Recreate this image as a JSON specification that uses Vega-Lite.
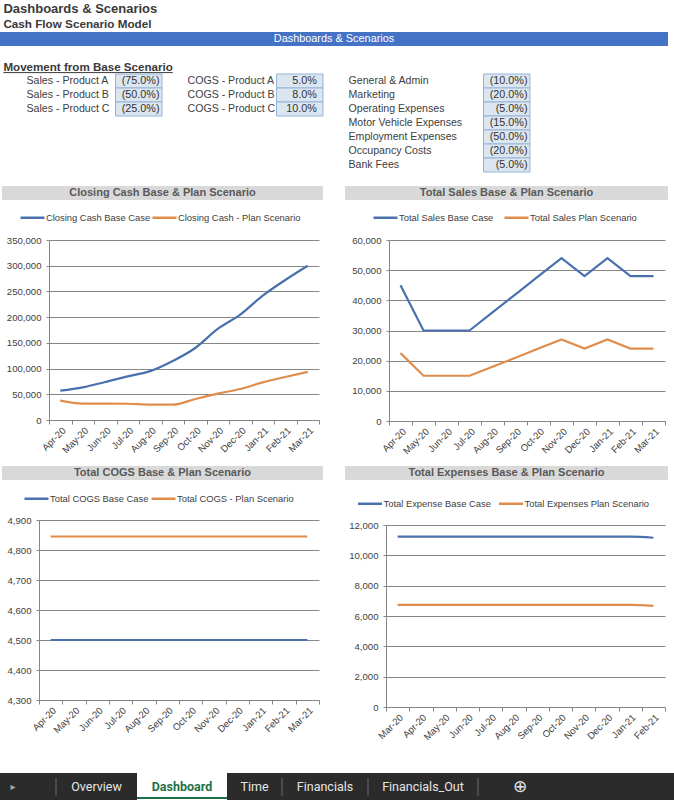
{
  "$schema": "https://vega.github.io/schema/vega-lite/v6.json",
  "padding": 0,
  "background": "white",
  "config": {
    "font": "Liberation Sans",
    "view": {"stroke": null},
    "concat": {"spacing": 0},
    "axis": {"domainColor": "#868686", "tickColor": "#868686", "gridColor": "#868686", "labelColor": "#404040", "labelFontSize": 9.6, "title": null}
  },
  "datasets": {
    "inputs": [
      {"g": "Sales", "r": "r1", "label": "Sales - Product A", "pct": -0.75},
      {"g": "Sales", "r": "r2", "label": "Sales - Product B", "pct": -0.5},
      {"g": "Sales", "r": "r3", "label": "Sales - Product C", "pct": -0.25},
      {"g": "COGS", "r": "r1", "label": "COGS - Product A", "pct": 0.05},
      {"g": "COGS", "r": "r2", "label": "COGS - Product B", "pct": 0.08},
      {"g": "COGS", "r": "r3", "label": "COGS - Product C", "pct": 0.1},
      {"g": "Expenses", "r": "r1", "label": "General & Admin", "pct": -0.1},
      {"g": "Expenses", "r": "r2", "label": "Marketing", "pct": -0.2},
      {"g": "Expenses", "r": "r3", "label": "Operating Expenses", "pct": -0.05},
      {"g": "Expenses", "r": "r4", "label": "Motor Vehicle Expenses", "pct": -0.15},
      {"g": "Expenses", "r": "r5", "label": "Employment Expenses", "pct": -0.5},
      {"g": "Expenses", "r": "r6", "label": "Occupancy Costs", "pct": -0.2},
      {"g": "Expenses", "r": "r7", "label": "Bank Fees", "pct": -0.05}
    ],
    "cash": [
      {"m": "Apr-20", "s": "Closing Cash Base Case", "v": 57000},
      {"m": "May-20", "s": "Closing Cash Base Case", "v": 63500},
      {"m": "Jun-20", "s": "Closing Cash Base Case", "v": 73900},
      {"m": "Jul-20", "s": "Closing Cash Base Case", "v": 84900},
      {"m": "Aug-20", "s": "Closing Cash Base Case", "v": 95000},
      {"m": "Sep-20", "s": "Closing Cash Base Case", "v": 114700},
      {"m": "Oct-20", "s": "Closing Cash Base Case", "v": 140000},
      {"m": "Nov-20", "s": "Closing Cash Base Case", "v": 177000},
      {"m": "Dec-20", "s": "Closing Cash Base Case", "v": 204800},
      {"m": "Jan-21", "s": "Closing Cash Base Case", "v": 241800},
      {"m": "Feb-21", "s": "Closing Cash Base Case", "v": 272200},
      {"m": "Mar-21", "s": "Closing Cash Base Case", "v": 300000},
      {"m": "Apr-20", "s": "Closing Cash - Plan Scenario", "v": 37600},
      {"m": "May-20", "s": "Closing Cash - Plan Scenario", "v": 31800},
      {"m": "Jun-20", "s": "Closing Cash - Plan Scenario", "v": 31800},
      {"m": "Jul-20", "s": "Closing Cash - Plan Scenario", "v": 31600},
      {"m": "Aug-20", "s": "Closing Cash - Plan Scenario", "v": 29800},
      {"m": "Sep-20", "s": "Closing Cash - Plan Scenario", "v": 29800},
      {"m": "Oct-20", "s": "Closing Cash - Plan Scenario", "v": 40800},
      {"m": "Nov-20", "s": "Closing Cash - Plan Scenario", "v": 51200},
      {"m": "Dec-20", "s": "Closing Cash - Plan Scenario", "v": 60300},
      {"m": "Jan-21", "s": "Closing Cash - Plan Scenario", "v": 73200},
      {"m": "Feb-21", "s": "Closing Cash - Plan Scenario", "v": 83600},
      {"m": "Mar-21", "s": "Closing Cash - Plan Scenario", "v": 93500}
    ],
    "sales": [
      {"m": "Apr-20", "s": "Total Sales Base Case", "v": 45000},
      {"m": "May-20", "s": "Total Sales Base Case", "v": 30000},
      {"m": "Jun-20", "s": "Total Sales Base Case", "v": 30000},
      {"m": "Jul-20", "s": "Total Sales Base Case", "v": 30000},
      {"m": "Aug-20", "s": "Total Sales Base Case", "v": 36000},
      {"m": "Sep-20", "s": "Total Sales Base Case", "v": 42000},
      {"m": "Oct-20", "s": "Total Sales Base Case", "v": 48000},
      {"m": "Nov-20", "s": "Total Sales Base Case", "v": 54000},
      {"m": "Dec-20", "s": "Total Sales Base Case", "v": 48000},
      {"m": "Jan-21", "s": "Total Sales Base Case", "v": 54000},
      {"m": "Feb-21", "s": "Total Sales Base Case", "v": 48000},
      {"m": "Mar-21", "s": "Total Sales Base Case", "v": 48000},
      {"m": "Apr-20", "s": "Total Sales Plan Scenario", "v": 22500},
      {"m": "May-20", "s": "Total Sales Plan Scenario", "v": 15000},
      {"m": "Jun-20", "s": "Total Sales Plan Scenario", "v": 15000},
      {"m": "Jul-20", "s": "Total Sales Plan Scenario", "v": 15000},
      {"m": "Aug-20", "s": "Total Sales Plan Scenario", "v": 18000},
      {"m": "Sep-20", "s": "Total Sales Plan Scenario", "v": 21000},
      {"m": "Oct-20", "s": "Total Sales Plan Scenario", "v": 24000},
      {"m": "Nov-20", "s": "Total Sales Plan Scenario", "v": 27000},
      {"m": "Dec-20", "s": "Total Sales Plan Scenario", "v": 24000},
      {"m": "Jan-21", "s": "Total Sales Plan Scenario", "v": 27000},
      {"m": "Feb-21", "s": "Total Sales Plan Scenario", "v": 24000},
      {"m": "Mar-21", "s": "Total Sales Plan Scenario", "v": 24000}
    ],
    "cogs": [
      {"m": "Apr-20", "s": "Total COGS Base Case", "v": 4500},
      {"m": "May-20", "s": "Total COGS Base Case", "v": 4500},
      {"m": "Jun-20", "s": "Total COGS Base Case", "v": 4500},
      {"m": "Jul-20", "s": "Total COGS Base Case", "v": 4500},
      {"m": "Aug-20", "s": "Total COGS Base Case", "v": 4500},
      {"m": "Sep-20", "s": "Total COGS Base Case", "v": 4500},
      {"m": "Oct-20", "s": "Total COGS Base Case", "v": 4500},
      {"m": "Nov-20", "s": "Total COGS Base Case", "v": 4500},
      {"m": "Dec-20", "s": "Total COGS Base Case", "v": 4500},
      {"m": "Jan-21", "s": "Total COGS Base Case", "v": 4500},
      {"m": "Feb-21", "s": "Total COGS Base Case", "v": 4500},
      {"m": "Mar-21", "s": "Total COGS Base Case", "v": 4500},
      {"m": "Apr-20", "s": "Total COGS - Plan Scenario", "v": 4845},
      {"m": "May-20", "s": "Total COGS - Plan Scenario", "v": 4845},
      {"m": "Jun-20", "s": "Total COGS - Plan Scenario", "v": 4845},
      {"m": "Jul-20", "s": "Total COGS - Plan Scenario", "v": 4845},
      {"m": "Aug-20", "s": "Total COGS - Plan Scenario", "v": 4845},
      {"m": "Sep-20", "s": "Total COGS - Plan Scenario", "v": 4845},
      {"m": "Oct-20", "s": "Total COGS - Plan Scenario", "v": 4845},
      {"m": "Nov-20", "s": "Total COGS - Plan Scenario", "v": 4845},
      {"m": "Dec-20", "s": "Total COGS - Plan Scenario", "v": 4845},
      {"m": "Jan-21", "s": "Total COGS - Plan Scenario", "v": 4845},
      {"m": "Feb-21", "s": "Total COGS - Plan Scenario", "v": 4845},
      {"m": "Mar-21", "s": "Total COGS - Plan Scenario", "v": 4845}
    ],
    "exp": [
      {"m": "Mar-20", "s": "Total Expense Base Case", "v": 11230},
      {"m": "Apr-20", "s": "Total Expense Base Case", "v": 11230},
      {"m": "May-20", "s": "Total Expense Base Case", "v": 11230},
      {"m": "Jun-20", "s": "Total Expense Base Case", "v": 11230},
      {"m": "Jul-20", "s": "Total Expense Base Case", "v": 11230},
      {"m": "Aug-20", "s": "Total Expense Base Case", "v": 11230},
      {"m": "Sep-20", "s": "Total Expense Base Case", "v": 11230},
      {"m": "Oct-20", "s": "Total Expense Base Case", "v": 11230},
      {"m": "Nov-20", "s": "Total Expense Base Case", "v": 11230},
      {"m": "Dec-20", "s": "Total Expense Base Case", "v": 11230},
      {"m": "Jan-21", "s": "Total Expense Base Case", "v": 11230},
      {"m": "Feb-21", "s": "Total Expense Base Case", "v": 11160},
      {"m": "Mar-20", "s": "Total Expenses Plan Scenario", "v": 6740},
      {"m": "Apr-20", "s": "Total Expenses Plan Scenario", "v": 6740},
      {"m": "May-20", "s": "Total Expenses Plan Scenario", "v": 6740},
      {"m": "Jun-20", "s": "Total Expenses Plan Scenario", "v": 6740},
      {"m": "Jul-20", "s": "Total Expenses Plan Scenario", "v": 6740},
      {"m": "Aug-20", "s": "Total Expenses Plan Scenario", "v": 6740},
      {"m": "Sep-20", "s": "Total Expenses Plan Scenario", "v": 6740},
      {"m": "Oct-20", "s": "Total Expenses Plan Scenario", "v": 6740},
      {"m": "Nov-20", "s": "Total Expenses Plan Scenario", "v": 6740},
      {"m": "Dec-20", "s": "Total Expenses Plan Scenario", "v": 6740},
      {"m": "Jan-21", "s": "Total Expenses Plan Scenario", "v": 6740},
      {"m": "Feb-21", "s": "Total Expenses Plan Scenario", "v": 6670}
    ]
  },
  "bounds": "flush",
  "spacing": 0,
  "resolve": {"scale": {"x": "independent", "y": "independent", "color": "independent"}, "legend": {"color": "independent"}},
  "vconcat": [
    {
      "width": 668, "height": 186,
      "layer": [
        {
          "data": {"values": [{"r": "b"}]},
          "mark": {"type": "rect", "fill": "#4472C4"},
          "encoding": {
            "y": {"field": "r", "type": "nominal", "axis": null, "scale": {"type": "band", "domain": ["t1","t2","b","e","h","r1","r2","r3","r4","r5","r6","r7"], "range": [4, 172], "paddingInner": 0, "paddingOuter": 0}}
          }
        },
        {
          "data": {"values": [{"r": "b", "t": "Dashboards & Scenarios"}]},
          "mark": {"type": "text", "color": "white", "fontSize": 10.9, "baseline": "middle"},
          "encoding": {
            "y": {"field": "r", "type": "nominal", "axis": null, "scale": {"type": "band", "domain": ["t1","t2","b","e","h","r1","r2","r3","r4","r5","r6","r7"], "range": [4, 172], "paddingInner": 0, "paddingOuter": 0}},
            "text": {"field": "t"}
          }
        },
        {
          "data": {"values": [{"r": "t1", "t": "Dashboards & Scenarios"}]},
          "mark": {"type": "text", "color": "#3A3A3A", "fontSize": 13, "fontWeight": "bold", "align": "left", "baseline": "alphabetic"},
          "encoding": {
            "x": {"datum": "Sales", "type": "nominal", "bandPosition": -0.1435, "axis": null, "scale": {"type": "band", "domain": ["Sales","COGS","Expenses"], "range": [26.5, 509.5], "paddingInner": 0, "paddingOuter": 0}},
            "y": {"field": "r", "type": "nominal", "bandPosition": 0.62, "axis": null, "scale": {"type": "band", "domain": ["t1","t2","b","e","h","r1","r2","r3","r4","r5","r6","r7"], "range": [4, 172], "paddingInner": 0, "paddingOuter": 0}},
            "text": {"field": "t"}
          }
        },
        {
          "data": {"values": [{"r": "t2", "t": "Cash Flow Scenario Model"}]},
          "mark": {"type": "text", "color": "#3A3A3A", "fontSize": 11.7, "fontWeight": "bold", "align": "left", "baseline": "alphabetic"},
          "encoding": {
            "x": {"datum": "Sales", "type": "nominal", "bandPosition": -0.1435, "axis": null, "scale": {"type": "band", "domain": ["Sales","COGS","Expenses"], "range": [26.5, 509.5], "paddingInner": 0, "paddingOuter": 0}},
            "y": {"field": "r", "type": "nominal", "bandPosition": 0.73, "axis": null, "scale": {"type": "band", "domain": ["t1","t2","b","e","h","r1","r2","r3","r4","r5","r6","r7"], "range": [4, 172], "paddingInner": 0, "paddingOuter": 0}},
            "text": {"field": "t"}
          }
        },
        {
          "data": {"values": [{"r": "h", "t": "Movement from Base Scenario"}]},
          "mark": {"type": "text", "color": "#3A3A3A", "fontSize": 11.6, "fontWeight": "bold", "align": "left", "baseline": "alphabetic"},
          "encoding": {
            "x": {"datum": "Sales", "type": "nominal", "bandPosition": -0.1435, "axis": null, "scale": {"type": "band", "domain": ["Sales","COGS","Expenses"], "range": [26.5, 509.5], "paddingInner": 0, "paddingOuter": 0}},
            "y": {"field": "r", "type": "nominal", "bandPosition": 0.8, "axis": null, "scale": {"type": "band", "domain": ["t1","t2","b","e","h","r1","r2","r3","r4","r5","r6","r7"], "range": [4, 172], "paddingInner": 0, "paddingOuter": 0}},
            "text": {"field": "t"}
          }
        },
        {
          "data": {"values": [{"r": "h"}]},
          "mark": {"type": "rule", "color": "#3A3A3A", "strokeWidth": 1},
          "encoding": {
            "x": {"datum": "Sales", "type": "nominal", "bandPosition": -0.1435, "axis": null, "scale": {"type": "band", "domain": ["Sales","COGS","Expenses"], "range": [26.5, 509.5], "paddingInner": 0, "paddingOuter": 0}},
            "x2": {"datum": "Sales", "bandPosition": 0.9087},
            "y": {"field": "r", "type": "nominal", "bandPosition": 0.9, "axis": null, "scale": {"type": "band", "domain": ["t1","t2","b","e","h","r1","r2","r3","r4","r5","r6","r7"], "range": [4, 172], "paddingInner": 0, "paddingOuter": 0}}
          }
        },
        {
          "data": {"name": "inputs"},
          "mark": {"type": "text", "color": "#404040", "fontSize": 10.6, "align": "left", "baseline": "middle"},
          "encoding": {
            "x": {"field": "g", "type": "nominal", "bandPosition": 0, "axis": null, "scale": {"type": "band", "domain": ["Sales","COGS","Expenses"], "range": [26.5, 509.5], "paddingInner": 0, "paddingOuter": 0}},
            "y": {"field": "r", "type": "nominal", "axis": null, "scale": {"type": "band", "domain": ["t1","t2","b","e","h","r1","r2","r3","r4","r5","r6","r7"], "range": [4, 172], "paddingInner": 0, "paddingOuter": 0}},
            "text": {"field": "label"}
          }
        },
        {
          "data": {"name": "inputs"},
          "transform": [{"filter": "datum.g !== 'Expenses'"}],
          "mark": {"type": "rect", "fill": "#DCE6F1", "stroke": "#95B3D7", "strokeWidth": 1},
          "encoding": {
            "x": {"field": "g", "type": "nominal", "bandPosition": 0.553, "axis": null, "scale": {"type": "band", "domain": ["Sales","COGS","Expenses"], "range": [26.5, 509.5], "paddingInner": 0, "paddingOuter": 0}},
            "x2": {"field": "g", "bandPosition": 0.8416},
            "y": {"field": "r", "type": "nominal", "axis": null, "scale": {"type": "band", "domain": ["t1","t2","b","e","h","r1","r2","r3","r4","r5","r6","r7"], "range": [4, 172], "paddingInner": 0, "paddingOuter": 0}}
          }
        },
        {
          "data": {"name": "inputs"},
          "transform": [{"filter": "datum.g === 'Expenses'"}],
          "mark": {"type": "rect", "fill": "#DCE6F1", "stroke": "#95B3D7", "strokeWidth": 1},
          "encoding": {
            "x": {"field": "g", "type": "nominal", "bandPosition": 0.8385, "axis": null, "scale": {"type": "band", "domain": ["Sales","COGS","Expenses"], "range": [26.5, 509.5], "paddingInner": 0, "paddingOuter": 0}},
            "x2": {"field": "g", "bandPosition": 1.127},
            "y": {"field": "r", "type": "nominal", "axis": null, "scale": {"type": "band", "domain": ["t1","t2","b","e","h","r1","r2","r3","r4","r5","r6","r7"], "range": [4, 172], "paddingInner": 0, "paddingOuter": 0}}
          }
        },
        {
          "data": {"name": "inputs"},
          "transform": [{"filter": "datum.g === 'Sales'"}],
          "mark": {"type": "text", "color": "#333333", "fontSize": 10.8, "align": "right", "baseline": "middle"},
          "encoding": {
            "x": {"field": "g", "type": "nominal", "bandPosition": 0.826, "axis": null, "scale": {"type": "band", "domain": ["Sales","COGS","Expenses"], "range": [26.5, 509.5], "paddingInner": 0, "paddingOuter": 0}},
            "y": {"field": "r", "type": "nominal", "axis": null, "scale": {"type": "band", "domain": ["t1","t2","b","e","h","r1","r2","r3","r4","r5","r6","r7"], "range": [4, 172], "paddingInner": 0, "paddingOuter": 0}},
            "text": {"field": "pct", "type": "quantitative", "format": "(.1%"}
          }
        },
        {
          "data": {"name": "inputs"},
          "transform": [{"filter": "datum.g === 'COGS'"}],
          "mark": {"type": "text", "color": "#333333", "fontSize": 10.8, "align": "right", "baseline": "middle", "dx": -3.6},
          "encoding": {
            "x": {"field": "g", "type": "nominal", "bandPosition": 0.826, "axis": null, "scale": {"type": "band", "domain": ["Sales","COGS","Expenses"], "range": [26.5, 509.5], "paddingInner": 0, "paddingOuter": 0}},
            "y": {"field": "r", "type": "nominal", "axis": null, "scale": {"type": "band", "domain": ["t1","t2","b","e","h","r1","r2","r3","r4","r5","r6","r7"], "range": [4, 172], "paddingInner": 0, "paddingOuter": 0}},
            "text": {"field": "pct", "type": "quantitative", "format": "(.1%"}
          }
        },
        {
          "data": {"name": "inputs"},
          "transform": [{"filter": "datum.g === 'Expenses'"}],
          "mark": {"type": "text", "color": "#333333", "fontSize": 10.8, "align": "right", "baseline": "middle"},
          "encoding": {
            "x": {"field": "g", "type": "nominal", "bandPosition": 1.112, "axis": null, "scale": {"type": "band", "domain": ["Sales","COGS","Expenses"], "range": [26.5, 509.5], "paddingInner": 0, "paddingOuter": 0}},
            "y": {"field": "r", "type": "nominal", "axis": null, "scale": {"type": "band", "domain": ["t1","t2","b","e","h","r1","r2","r3","r4","r5","r6","r7"], "range": [4, 172], "paddingInner": 0, "paddingOuter": 0}},
            "text": {"field": "pct", "type": "quantitative", "format": "(.1%"}
          }
        }
      ]
    },
    {
      "hconcat": [
        {"width": 2, "height": 14, "data": {"values": []}, "mark": "rect", "encoding": {}},
        {"width": 321, "height": 14, "view": {"fill": "#D9D9D9"}, "data": {"values": [{"t": "Closing Cash Base & Plan Scenario"}]}, "mark": {"type": "text", "fontSize": 11, "fontWeight": "bold", "color": "#595959", "baseline": "middle"}, "encoding": {"text": {"field": "t"}}},
        {"width": 22, "height": 14, "data": {"values": []}, "mark": "rect", "encoding": {}},
        {"width": 323, "height": 14, "view": {"fill": "#D9D9D9"}, "data": {"values": [{"t": "Total Sales Base & Plan Scenario"}]}, "mark": {"type": "text", "fontSize": 11, "fontWeight": "bold", "color": "#595959", "baseline": "middle"}, "encoding": {"text": {"field": "t"}}}
      ],
      "spacing": 0, "bounds": "flush"
    },
    {"width": 1, "height": 54, "data": {"values": []}, "mark": "rect", "encoding": {}},
    {
      "hconcat": [
        {"width": 49, "height": 1, "data": {"values": []}, "mark": "rect", "encoding": {}},
        {
          "width": 270, "height": 180,
          "data": {"name": "cash"},
          "mark": {"type": "line", "strokeWidth": 2.2, "interpolate": "monotone"},
          "encoding": {
            "x": {"field": "m", "type": "nominal", "sort": null, "scale": {"type": "band", "paddingInner": 0, "paddingOuter": 0}, "axis": {"title": null, "labelAngle": -45, "labelAlign": "right", "labelBaseline": "top", "tickBand": "extent", "tickSize": 4, "labelPadding": 1, "grid": false, "labelOverlap": false}},
            "y": {"field": "v", "type": "quantitative", "scale": {"domain": [0, 350000], "nice": false, "zero": false}, "axis": {"title": null, "values": [0, 50000, 100000, 150000, 200000, 250000, 300000, 350000], "format": ",d", "grid": true, "tickSize": 3, "labelPadding": 5}},
            "color": {"field": "s", "type": "nominal", "sort": null, "scale": {"range": ["#4A70AE", "#E08D4C"]}, "legend": {"title": null, "orient": "none", "legendX": -30, "legendY": -36, "direction": "horizontal", "symbolType": "stroke", "symbolSize": 576, "symbolStrokeWidth": 2.5, "labelFontSize": 9.4, "labelColor": "#404040", "labelOffset": 0, "columnPadding": -5, "padding": 0, "labelLimit": 300}}
          }
        },
        {"width": 70, "height": 1, "data": {"values": []}, "mark": "rect", "encoding": {}},
        {
          "width": 276, "height": 181,
          "data": {"name": "sales"},
          "mark": {"type": "line", "strokeWidth": 2.2},
          "encoding": {
            "x": {"field": "m", "type": "nominal", "sort": null, "scale": {"type": "band", "paddingInner": 0, "paddingOuter": 0}, "axis": {"title": null, "labelAngle": -45, "labelAlign": "right", "labelBaseline": "top", "tickBand": "extent", "tickSize": 4, "labelPadding": 1, "grid": false, "labelOverlap": false}},
            "y": {"field": "v", "type": "quantitative", "scale": {"domain": [0, 60000], "nice": false, "zero": false}, "axis": {"title": null, "values": [0, 10000, 20000, 30000, 40000, 50000, 60000], "format": ",d", "grid": true, "tickSize": 3, "labelPadding": 5}},
            "color": {"field": "s", "type": "nominal", "sort": null, "scale": {"range": ["#4A70AE", "#E08D4C"]}, "legend": {"title": null, "orient": "none", "legendX": -17, "legendY": -36, "direction": "horizontal", "symbolType": "stroke", "symbolSize": 576, "symbolStrokeWidth": 2.5, "labelFontSize": 9.4, "labelColor": "#404040", "labelOffset": 0, "columnPadding": 5, "padding": 0, "labelLimit": 300}}
          }
        }
      ],
      "spacing": 0, "bounds": "flush",
      "resolve": {"scale": {"x": "independent", "y": "independent", "color": "independent"}, "legend": {"color": "independent"}}
    },
    {"width": 1, "height": 226, "data": {"values": []}, "mark": "rect", "encoding": {}},
    {
      "hconcat": [
        {"width": 2, "height": 14, "data": {"values": []}, "mark": "rect", "encoding": {}},
        {"width": 321, "height": 14, "view": {"fill": "#D9D9D9"}, "data": {"values": [{"t": "Total COGS Base & Plan Scenario"}]}, "mark": {"type": "text", "fontSize": 11, "fontWeight": "bold", "color": "#595959", "baseline": "middle"}, "encoding": {"text": {"field": "t"}}},
        {"width": 22, "height": 14, "data": {"values": []}, "mark": "rect", "encoding": {}},
        {"width": 323, "height": 14, "view": {"fill": "#D9D9D9"}, "data": {"values": [{"t": "Total Expenses Base & Plan Scenario"}]}, "mark": {"type": "text", "fontSize": 11, "fontWeight": "bold", "color": "#595959", "baseline": "middle"}, "encoding": {"text": {"field": "t"}}}
      ],
      "spacing": 0, "bounds": "flush"
    },
    {"width": 1, "height": 54, "data": {"values": []}, "mark": "rect", "encoding": {}},
    {
      "hconcat": [
        {"width": 39, "height": 1, "data": {"values": []}, "mark": "rect", "encoding": {}},
        {
          "width": 280, "height": 180,
          "data": {"name": "cogs"},
          "mark": {"type": "line", "strokeWidth": 2.2},
          "encoding": {
            "x": {"field": "m", "type": "nominal", "sort": null, "scale": {"type": "band", "paddingInner": 0, "paddingOuter": 0}, "axis": {"title": null, "labelAngle": -45, "labelAlign": "right", "labelBaseline": "top", "tickBand": "extent", "tickSize": 4, "labelPadding": 1, "grid": false, "labelOverlap": false}},
            "y": {"field": "v", "type": "quantitative", "scale": {"domain": [4300, 4900], "nice": false, "zero": false}, "axis": {"title": null, "values": [4300, 4400, 4500, 4600, 4700, 4800, 4900], "format": ",d", "grid": true, "tickSize": 3, "labelPadding": 5}},
            "color": {"field": "s", "type": "nominal", "sort": null, "scale": {"range": ["#4A70AE", "#E08D4C"]}, "legend": {"title": null, "orient": "none", "legendX": -16, "legendY": -35, "direction": "horizontal", "symbolType": "stroke", "symbolSize": 576, "symbolStrokeWidth": 2.5, "labelFontSize": 9.4, "labelColor": "#404040", "labelOffset": 0, "columnPadding": -3, "padding": 0, "labelLimit": 300}}
          }
        },
        {"width": 67, "height": 1, "data": {"values": []}, "mark": "rect", "encoding": {}},
        {
          "vconcat": [
            {"width": 1, "height": 5, "data": {"values": []}, "mark": "rect", "encoding": {}},
            {
              "width": 279, "height": 182,
              "data": {"name": "exp"},
              "mark": {"type": "line", "strokeWidth": 2.2, "interpolate": "monotone"},
              "encoding": {
                "x": {"field": "m", "type": "nominal", "sort": null, "scale": {"type": "band", "paddingInner": 0, "paddingOuter": 0}, "axis": {"title": null, "labelAngle": -45, "labelAlign": "right", "labelBaseline": "top", "tickBand": "extent", "tickSize": 4, "labelPadding": 1, "grid": false, "labelOverlap": false}},
                "y": {"field": "v", "type": "quantitative", "scale": {"domain": [0, 12000], "nice": false, "zero": false}, "axis": {"title": null, "values": [0, 2000, 4000, 6000, 8000, 10000, 12000], "format": ",d", "grid": true, "tickSize": 3, "labelPadding": 5}},
                "color": {"field": "s", "type": "nominal", "sort": null, "scale": {"range": ["#4A70AE", "#E08D4C"]}, "legend": {"title": null, "orient": "none", "legendX": -29.5, "legendY": -35, "direction": "horizontal", "symbolType": "stroke", "symbolSize": 576, "symbolStrokeWidth": 2.5, "labelFontSize": 9.4, "labelColor": "#404040", "labelOffset": 0, "columnPadding": 2, "padding": 0, "labelLimit": 300}}
              }
            }
          ],
          "spacing": 0, "bounds": "flush",
          "resolve": {"scale": {"x": "independent", "y": "independent", "color": "independent"}, "legend": {"color": "independent"}}
        }
      ],
      "spacing": 0, "bounds": "flush",
      "resolve": {"scale": {"x": "independent", "y": "independent", "color": "independent"}, "legend": {"color": "independent"}}
    },
    {"width": 1, "height": 253, "data": {"values": []}, "mark": "rect", "encoding": {}},
    {
      "hconcat": [
        {"width": 26, "height": 27, "view": {"fill": "#2B2B2B"}, "data": {"values": [{"t": "▸"}]}, "mark": {"type": "text", "font": "DejaVu Sans", "fontSize": 10, "color": "#A6A6A6", "baseline": "middle"}, "encoding": {"text": {"field": "t"}}},
        {"width": 30, "height": 27, "view": {"fill": "#2B2B2B"}, "data": {"values": []}, "mark": "rect", "encoding": {}},
        {
          "width": 81, "height": 27, "view": {"fill": "#2B2B2B"},
          "layer": [
            {"data": {"values": [{"t": "Overview"}]}, "mark": {"type": "text", "font": "Roboto", "fontSize": 12.5, "color": "#E6E6E6", "baseline": "middle"}, "encoding": {"text": {"field": "t"}}},
            {"data": {"values": [{}]}, "mark": {"type": "rule", "color": "#6A6A6A", "strokeWidth": 1}, "encoding": {"x": {"datum": 0, "type": "quantitative", "scale": {"domain": [0, 1]}, "axis": null}, "y": {"datum": 0.15, "type": "quantitative", "scale": {"domain": [0, 1]}, "axis": null}, "y2": {"datum": 0.82}}}
          ]
        },
        {
          "width": 90, "height": 27, "view": {"fill": "#FFFFFF"},
          "layer": [
            {"data": {"values": [{"t": "Dashboard"}]}, "mark": {"type": "text", "font": "Roboto", "fontSize": 12.5, "fontWeight": "bold", "color": "#1E7145", "baseline": "middle"}, "encoding": {"text": {"field": "t"}}},
            {"data": {"values": [{}]}, "mark": {"type": "rule", "color": "#1E7145", "strokeWidth": 2}, "encoding": {"y": {"datum": 0.07, "type": "quantitative", "scale": {"domain": [0, 1]}, "axis": null}}}
          ]
        },
        {"width": 55, "height": 27, "view": {"fill": "#2B2B2B"}, "data": {"values": [{"t": "Time"}]}, "mark": {"type": "text", "font": "Roboto", "fontSize": 12.5, "color": "#E6E6E6", "baseline": "middle"}, "encoding": {"text": {"field": "t"}}},
        {
          "width": 86, "height": 27, "view": {"fill": "#2B2B2B"},
          "layer": [
            {"data": {"values": [{"t": "Financials"}]}, "mark": {"type": "text", "font": "Roboto", "fontSize": 12.5, "color": "#E6E6E6", "baseline": "middle"}, "encoding": {"text": {"field": "t"}}},
            {"data": {"values": [{}]}, "mark": {"type": "rule", "color": "#6A6A6A", "strokeWidth": 1}, "encoding": {"x": {"datum": 0, "type": "quantitative", "scale": {"domain": [0, 1]}, "axis": null}, "y": {"datum": 0.15, "type": "quantitative", "scale": {"domain": [0, 1]}, "axis": null}, "y2": {"datum": 0.82}}}
          ]
        },
        {
          "width": 110, "height": 27, "view": {"fill": "#2B2B2B"},
          "layer": [
            {"data": {"values": [{"t": "Financials_Out"}]}, "mark": {"type": "text", "font": "Roboto", "fontSize": 12.5, "color": "#E6E6E6", "baseline": "middle"}, "encoding": {"text": {"field": "t"}}},
            {"data": {"values": [{}]}, "mark": {"type": "rule", "color": "#6A6A6A", "strokeWidth": 1}, "encoding": {"x": {"datum": 0, "type": "quantitative", "scale": {"domain": [0, 1]}, "axis": null}, "y": {"datum": 0.15, "type": "quantitative", "scale": {"domain": [0, 1]}, "axis": null}, "y2": {"datum": 0.82}}}
          ]
        },
        {
          "width": 84, "height": 27, "view": {"fill": "#2B2B2B"},
          "layer": [
            {"data": {"values": [{"t": "⊕"}]}, "mark": {"type": "text", "font": "DejaVu Sans", "fontSize": 17, "color": "#E6E6E6", "baseline": "middle"}, "encoding": {"text": {"field": "t"}}},
            {"data": {"values": [{}]}, "mark": {"type": "rule", "color": "#6A6A6A", "strokeWidth": 1}, "encoding": {"x": {"datum": 0, "type": "quantitative", "scale": {"domain": [0, 1]}, "axis": null}, "y": {"datum": 0.15, "type": "quantitative", "scale": {"domain": [0, 1]}, "axis": null}, "y2": {"datum": 0.82}}}
          ]
        },
        {"width": 112, "height": 27, "view": {"fill": "#2B2B2B"}, "data": {"values": []}, "mark": "rect", "encoding": {}}
      ],
      "spacing": 0, "bounds": "flush",
      "resolve": {"scale": {"x": "independent", "y": "independent"}}
    }
  ]
}
